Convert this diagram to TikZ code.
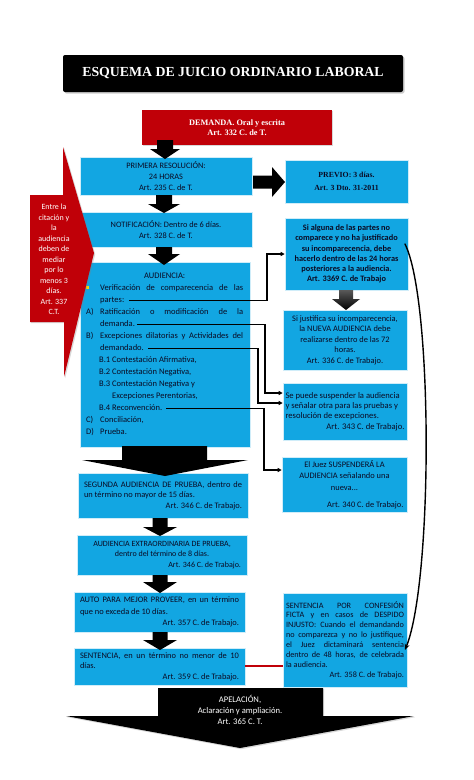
\documentclass[tikz,border=0pt]{standalone}
\usepackage{fontspec}
\setmainfont{Carlito}
\newfontfamily\tnr{Liberation Serif}
\usetikzlibrary{shadows,arrows.meta}
\definecolor{boxblue}{RGB}{18,166,226}
\definecolor{boxred}{RGB}{192,0,8}
\definecolor{txtc}{RGB}{10,10,35}
\newcommand\sps{\spaceskip=.226em plus 1fil\xspaceskip=.226em plus 1fil\relax}
\newcommand\tb[2]{\vbox{\hsize=#1pt\relax\parindent=0pt #2}}
\newcommand\myc[1]{\hbox to\hsize{\hfil#1\hfil}}
\newcommand\myl[1]{\hbox to\hsize{#1\hfil}}
\newcommand\myr[1]{\hbox to\hsize{\hfil#1}}
\newcommand\myj[1]{\hbox to\hsize{\sps#1}}
\newcommand\myi[2]{\hbox to\hsize{\hbox to14pt{#1\hfil}\hbox to\dimexpr\hsize-14pt\relax{\sps#2}}}
\newcommand\myk[2]{\hbox to\hsize{\hbox to14pt{#1\hfil}#2\hfil}}
\newcommand\dnarrow[6]{\fill[black] ({#1-#5},#2) -- ({#1+#5},#2) -- ({#1+#5},#3) -- ({#1+#6},#3) -- (#1,#4) -- ({#1-#6},#3) -- ({#1-#5},#3) -- cycle;}
\tikzset{
  bbox/.style={fill=boxblue, draw=white!80!boxblue, line width=0.6pt, inner sep=0pt,
    drop shadow={opacity=0.35, shadow xshift=1.2pt, shadow yshift=-1.2pt},
    text=txtc, font=\fontsize{8.4}{10.8}\selectfont},
  conn/.style={line width=1.1pt, -{Triangle[length=4pt,width=4pt]}},
}
\begin{document}
\begin{tikzpicture}[x=1pt,y=-1pt]
\useasboundingbox (0,0) rectangle (474,780);
\fill[white] (0,0) rectangle (474,780);

% title
\node[fill=black, rounded corners=2pt, minimum width=340, minimum height=37, text=white,
  font=\tnr\bfseries\fontsize{13.8}{15}\selectfont,
  drop shadow={opacity=0.4, shadow xshift=1.5pt, shadow yshift=-1.5pt}] (title) at (233,73.5)
  {ESQUEMA DE JUICIO ORDINARIO LABORAL};

% demanda
\node[fill=boxred, minimum width=190, minimum height=35, text=white, align=center,
  font=\tnr\bfseries\fontsize{8.3}{10}\selectfont,
  drop shadow={opacity=0.3, shadow xshift=1.2pt, shadow yshift=-1.2pt}] (dem) at (237,127.5)
  {DEMANDA. Oral y escrita\\Art. 332 C. de T.};

% left column
\node[bbox, minimum width=172, minimum height=38, font=\fontsize{8.3}{11}\selectfont] (prim) at (166,176)
  {\tb{160}{\myc{PRIMERA RESOLUCIÓN:}\myc{24 HORAS}\myc{Art. 235 C. de T.}}};
\node[bbox, minimum width=172, minimum height=35, font=\fontsize{8.3}{11}\selectfont] (notif) at (166,229.5)
  {\tb{160}{\myc{NOTIFICACIÓN: Dentro de 6 días.}\myc{Art. 328 C. de T.}}};
\node[bbox, minimum width=170, minimum height=185] (aud) at (165,354.5) {};
\node[anchor=north west, inner sep=0pt, text=txtc,
  font=\fontsize{8.5}{12}\selectfont] (audtxt) at (86,272.7)
  {\tb{157}{\myc{AUDIENCIA:}%
   \myi{\raisebox{1.2pt}{\color{yellow!70!orange}\rule{3.2pt}{3.2pt}}}{Verificación de comparecencia de las}%
   \myk{}{partes:}%
   \myi{A)}{Ratificación o modificación de la}%
   \myk{}{demanda.}%
   \myi{B)}{Excepciones dilatorias y Actividades del}%
   \myk{}{demandado.}%
   \myl{\hspace*{13pt}B.1 Contestación Afirmativa,}%
   \myl{\hspace*{13pt}B.2 Contestación Negativa,}%
   \myl{\hspace*{13pt}B.3 Contestación Negativa y}%
   \myl{\hspace*{26pt}Excepciones Perentorias,}%
   \myl{\hspace*{13pt}B.4 Reconvención.}%
   \myk{C)}{Conciliación,}%
   \myk{D)}{Prueba.}}};
\node[bbox, minimum width=170, minimum height=45, font=\fontsize{8.4}{10.6}\selectfont] (seg) at (163,495.5)
  {\tb{158}{\myj{SEGUNDA AUDIENCIA DE PRUEBA, dentro de}\myl{un término no mayor de 15 días.}\myr{Art. 346 C. de Trabajo.}}};
\node[bbox, minimum width=170, minimum height=40, font=\fontsize{8}{10.6}\selectfont] (ext) at (162,555)
  {\tb{158}{\myc{AUDIENCIA EXTRAORDINARIA DE PRUEBA,}\myc{dentro del término de 8 días.}\myr{Art. 346 C. de Trabajo.}}};
\node[bbox, minimum width=171, minimum height=40, font=\fontsize{8.4}{11.4}\selectfont] (auto) at (159.5,612)
  {\tb{159}{\myj{AUTO PARA MEJOR PROVEER, en un término}\myl{que no exceda de 10 días.}\myr{Art. 357 C. de Trabajo.}}};
\node[bbox, minimum width=171, minimum height=37, font=\fontsize{8.4}{10.6}\selectfont] (sent) at (159.5,666.5)
  {\tb{159}{\myj{SENTENCIA, en un término no menor de 10}\myl{días.}\myr{Art. 359 C. de Trabajo.}}};

% right column
\node[bbox, minimum width=123, minimum height=43,
  font=\tnr\bfseries\fontsize{7.8}{12.5}\selectfont] (previo) at (346.5,181.5)
  {\tb{115}{\myc{PREVIO: 3 días.}\myc{Art. 3 Dto. 31-2011}}};
\node[bbox, minimum width=123, minimum height=72,
  font=\bfseries\fontsize{8.3}{10.3}\selectfont] (sialg) at (346.5,254)
  {\tb{119}{\myc{Si alguna de las partes no}\myc{comparece y no ha justificado}\myc{su incomparecencia, debe}\myc{hacerlo dentro de las 24 horas}\myc{posteriores a la audiencia.}\myc{Art. 3369 C. de Trabajo}}};
\node[bbox, minimum width=124, minimum height=60, font=\fontsize{8.4}{10.5}\selectfont] (sijust) at (345,340)
  {\tb{118}{\myc{Si justifica su incomparecencia,}\myc{la NUEVA AUDIENCIA debe}\myc{realizarse dentro de las 72}\myc{horas.}\myc{Art. 336 C. de Trabajo.}}};
\node[bbox, minimum width=124, minimum height=57, font=\fontsize{8.6}{10.4}\selectfont] (sepuede) at (345,411.5)
  {\tb{119}{\myl{Se puede suspender la audiencia}\myl{y señalar otra para las pruebas y}\myl{resolución de excepciones.}\myr{Art. 343 C. de Trabajo.}}};
\node[bbox, minimum width=125, minimum height=55, font=\fontsize{8.4}{11.5}\selectfont] (eljuez) at (344.5,484.5)
  {\tb{118}{\myc{El Juez SUSPENDERÁ LA}\myc{AUDIENCIA señalando una}\myc{nueva...}\vskip6pt\myr{Art. 340 C. de Trabajo.}}};
\node[bbox, minimum width=124, minimum height=94, font=\fontsize{8.2}{9.9}\selectfont] (sentconf) at (345,640)
  {\tb{118}{\myj{SENTENCIA POR CONFESIÓN}\myj{FICTA y en casos de DESPIDO}\myj{INJUSTO: Cuando el demandando}\myj{no comparezca y no lo justifique,}\myj{el Juez dictaminará sentencia}\myj{dentro de 48 horas, de celebrada}\myl{la audiencia.}\myr{Art. 358 C. de Trabajo.}}};

% block arrows
\dnarrow{165}{140}{149}{159}{8}{15}
\dnarrow{164}{195}{204}{213}{8}{16}
\dnarrow{164}{247}{254}{265}{8}{16}
\fill[black] (122,446) -- (207,446) -- (207,460) -- (248,460) -- (165,476) -- (82,460) -- (122,460) -- cycle;
\dnarrow{160}{518}{527}{536}{7.5}{17}
\dnarrow{160}{575}{582}{593}{7.5}{17}
\dnarrow{160}{632}{640}{650}{7.5}{17}
\fill[black] (253,175.5) -- (272,175.5) -- (272,167) -- (285,182) -- (272,197) -- (272,188.5) -- (253,188.5) -- cycle;
\shade[top color=black!65, bottom color=black] (339,290) -- (353,290) -- (353,299) -- (360,299) -- (346,310) -- (332,299) -- (339,299) -- cycle;

% red callout
\fill[boxred, drop shadow={opacity=0.3, shadow xshift=1.2pt, shadow yshift=-1.2pt}]
  (30,195) -- (63,195) -- (63,147) -- (94,253) -- (64,377) -- (64,322) -- (30,322) -- cycle;
\node[text=white, align=center, inner sep=0pt, font=\fontsize{8}{10.5}\selectfont] (callt) at (54,259.5)
  {Entre la\\citación y\\la\\audiencia\\deben de\\mediar\\por lo\\menos 3\\días.\\Art. 337\\C.T.};

% apelacion
\fill[black, drop shadow={opacity=0.3, shadow xshift=1.2pt, shadow yshift=-1.2pt}]
  (158,688) -- (323,688) -- (323,716) -- (414,716) -- (240,748) -- (66,716) -- (158,716) -- cycle;
\node[text=white, align=center, inner sep=0pt, font=\fontsize{8.6}{11}\selectfont] (apel) at (240,710)
  {APELACIÓN,\\Aclaración y ampliación.\\Art. 365 C. T.};

% thin connectors
\coordinate (p1) at (129,300.5);
\coordinate (p2) at (137,324.5);
\coordinate (p3) at (148,348.5);
\coordinate (p4) at (166,408.5);
\coordinate (y393) at (0,393);
\coordinate (y403) at (0,403);
\coordinate (y470) at (0,470);
\draw[conn] (p1) -- (267,300.5) |- (sialg.west);
\draw[conn] (p2) -- (265,324.5) |- (sepuede.west |- y393);
\draw[conn] (p3) -- (258,348.5) |- (sepuede.west |- y403);
\draw[conn] (p4) -- (264,408.5) |- (eljuez.west |- y470);

% curved connector
\coordinate (cs) at (405,244);
\coordinate (ce) at (405,650);
\draw[line width=1.4pt, line cap=round, -{Stealth[length=6pt,width=5pt]}] (cs) .. controls (433,300) and (433,580) .. (ce);

% red line
\coordinate (yr) at (0,666);
\draw[boxred, line width=2.5pt] (sent.east |- yr) -- (sentconf.west |- yr);
\end{tikzpicture}
\end{document}
